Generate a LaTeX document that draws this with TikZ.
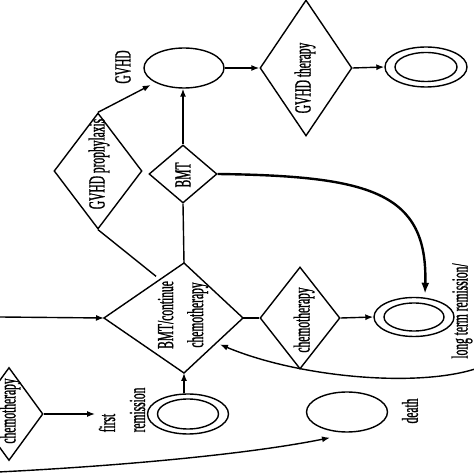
\documentclass[tikz,border=0pt]{standalone}
\usepackage{fontspec}
\setmainfont{Liberation Serif}[FakeStretch=0.5,FakeBold=1]
\usetikzlibrary{shapes.geometric,arrows.meta,calc}
\begin{document}
\begin{tikzpicture}[x=1pt,y=1pt,
  line width=1.4pt,
  dia/.style={draw,diamond,inner sep=0pt,line join=miter},
  ell/.style={draw,ellipse,inner sep=0pt},
  lbl/.style={font=\fontsize{23}{30}\selectfont,inner sep=0pt,rotate=90},
  arr/.style={-{Latex[length=8pt,width=6pt]}},
  thickarr/.style={line width=2.4pt,-{Latex[length=11pt,width=8pt]}},
]
\useasboundingbox (0,0) rectangle (474,474);
% top row
\node[ell,minimum width=80pt,minimum height=40pt] (gvhd) at (184,406) {};
\node[lbl] (gvhdl) at (123,407) {GVHD};
\node[dia,minimum width=92pt,minimum height=136pt] (gt) at (306,406) {};
\node[lbl] (gtl) at (305,396) {GVHD therapy};
\node[ell,minimum width=82pt,minimum height=40pt] (tr) at (426,407) {};
\node[ell,minimum width=62pt,minimum height=29pt] (tri) at (426,407) {};
% middle
\node[dia,minimum width=88pt,minimum height=116pt] (gp) at (98,303) {};
\node[lbl] (gpl) at (99,310) {GVHD prophylaxis};
\node[dia,minimum width=68pt,minimum height=58pt] (bmt) at (183,300) {};
\node[lbl] (bmtl) at (183,299) {BMT};
% BMT/continue chemotherapy (asymmetric diamond)
\coordinate (bcl) at (104,156);
\coordinate (bct) at (184,211);
\coordinate (bcr) at (243,156);
\coordinate (bcb) at (184,101);
\draw[line join=miter] (bcl)--(bct)--(bcr)--(bcb)--cycle;
\node[lbl,align=center] (bctext) at (183,159) {BMT/continue\\chemotherapy};
\node[dia,minimum width=80pt,minimum height=102pt] (ch) at (300,156) {};
\node[lbl] (chl) at (304,154) {chemotherapy};
\node[ell,minimum width=80pt,minimum height=39pt] (ltr) at (414,157) {};
\node[ell,minimum width=60pt,minimum height=28pt] (ltri) at (414,157) {};
\node[lbl] (ltrl) at (462,163) {long term remission/};
% bottom
\node[ell,minimum width=81pt,minimum height=40pt] (fr) at (188,60) {};
\node[ell,minimum width=61pt,minimum height=30pt] (fri) at (188,60) {};
\node[lbl,align=left] (frl) at (122,64) {first\\remission};
\node[dia,minimum width=68pt,minimum height=93pt] (cl) at (9,60) {};
\node[lbl] (cll) at (10,63) {chemotherapy};
\node[ell,minimum width=81pt,minimum height=40pt] (death) at (347,62) {};
\node[lbl] (deathl) at (410,63) {death};
% free ends
\coordinate (lin) at (0,157);
\coordinate (rin) at (478,106);
\coordinate (din) at (-2,2);
% connectors
\draw[arr] (gvhd.east) -- (gt.west);
\draw[arr] (gt.east) -- (tr.west);
\draw[arr,shorten >=5pt] (gp.north) -- (gvhd.south west);
\draw[arr] (bmt.north) -- (bmt.north |- gvhd.south);
\draw (bmt.south) -- (bct);
\draw[shorten >=5pt] (gp.south) -- ($(bcl)!0.7!(bct)$);
\draw[thickarr] (bmt.east) .. controls (370,298) and (428,282) .. ($(ltr.north)+(11,3)$);
\draw[arr] (lin) -- (bcl);
\draw[arr] (fr.north -| bcb) -- (bcb);
\draw (bcr) -- (ch.west);
\draw[arr] (ch.east) -- (ltr.west);
\draw[arr] (rin) .. controls (420,86) and (300,96) .. ($(bcr)!0.39!(bcb)+(0,-5)$);
\draw[arr,shorten >=3pt] (cl.east) -- (cl.east -| frl.north);
\draw[arr] (din) .. controls (120,8) and (250,20) .. ($(death.south)+(-17,-5)$);
\end{tikzpicture}
\end{document}
